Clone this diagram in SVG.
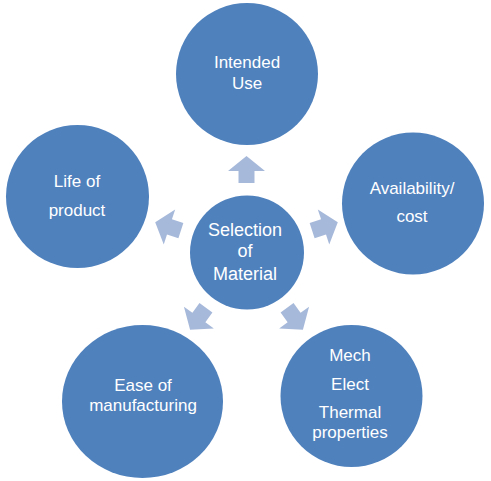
<svg xmlns="http://www.w3.org/2000/svg" width="491" height="481" viewBox="0 0 491 481">
<defs>
<style>
.node{fill:#4F81BD;}
.arrow{fill:#A7B9DA;}
.t{fill:#FFFFFF;font-family:"Liberation Sans",Arial,sans-serif;font-size:17px;text-anchor:middle;}
.tc{fill:#FFFFFF;font-family:"Liberation Sans",Arial,sans-serif;font-size:18px;text-anchor:middle;}
</style>
<path id="arr" d="M0,-96 L18.5,-81 L8,-81 L8,-69 L-8,-69 L-8,-81 L-18.5,-81 Z"/>
</defs>
<rect width="491" height="481" fill="#FFFFFF"/>
<g id="connectors" transform="translate(246.5,252)">
<use href="#arr" class="arrow"/>
<use href="#arr" class="arrow" transform="rotate(72)"/>
<use href="#arr" class="arrow" transform="rotate(144)"/>
<use href="#arr" class="arrow" transform="rotate(216)"/>
<use href="#arr" class="arrow" transform="rotate(288)"/>
</g>
<g id="center">
<circle class="node" cx="247" cy="252.5" r="57"/>
<text class="tc" x="245" y="236">Selection</text>
<text class="tc" x="245" y="257">of</text>
<text class="tc" x="245" y="280">Material</text>
</g>
<g id="intended">
<circle class="node" cx="247" cy="74" r="71"/>
<text class="t" x="247" y="68">Intended</text>
<text class="t" x="247" y="89">Use</text>
</g>
<g id="availability">
<circle class="node" cx="413" cy="203.5" r="71"/>
<text class="t" x="412" y="194">Availability/</text>
<text class="t" x="412" y="222">cost</text>
</g>
<g id="properties">
<circle class="node" cx="351.5" cy="396" r="71"/>
<text class="t" x="350" y="361">Mech</text>
<text class="t" x="350" y="390">Elect</text>
<text class="t" x="350" y="418">Thermal</text>
<text class="t" x="350" y="438">properties</text>
</g>
<g id="ease">
<ellipse class="node" cx="142.5" cy="401.5" rx="80.5" ry="76.5"/>
<text class="t" x="143" y="391">Ease of</text>
<text class="t" x="143" y="411">manufacturing</text>
</g>
<g id="life">
<circle class="node" cx="77.5" cy="196.5" r="71.5"/>
<text class="t" x="77" y="187">Life of</text>
<text class="t" x="77" y="216">product</text>
</g>
</svg>
